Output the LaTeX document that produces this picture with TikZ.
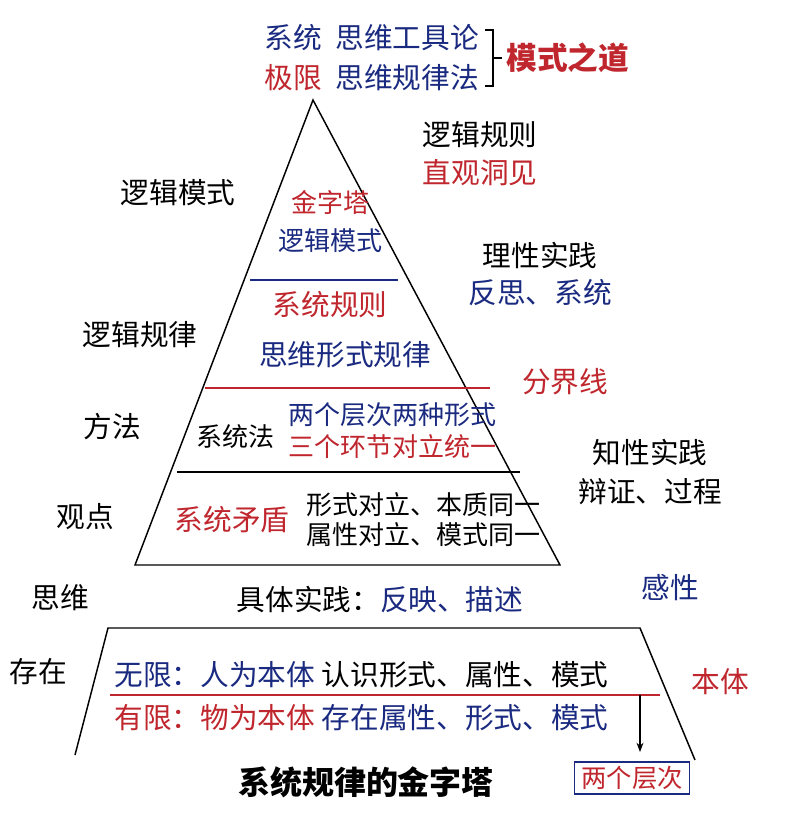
\documentclass[tikz,border=0pt]{standalone}
\usepackage{fontspec}
\setmainfont{Noto Sans CJK SC}
\usetikzlibrary{arrows.meta}
\definecolor{bl}{HTML}{1A2A80}
\definecolor{rd}{HTML}{C0262D}
\begin{document}
\begin{tikzpicture}[x=0.75pt,y=-0.75pt,
  t/.style={font=\fontsize{21.5}{24}\selectfont,inner sep=1pt},
  tb/.style={t,text=bl},tr/.style={t,text=rd},
  sm/.style={font=\fontsize{19.5}{22}\selectfont},
  ln/.style={line width=1.1pt}]
\useasboundingbox (0,0) rectangle (800,840);
\fill[white] (0,0) rectangle (800,840);
% top
\node[tb] (a1) at (293,38) {系统};
\node[tb] (a2) at (407,38) {思维工具论};
\node[tr] (b1) at (293,78) {极限};
\node[tb] (b2) at (407,78) {思维规律法};
\draw[ln] (485,30) -- (493,30) -- (493,86) -- (485,86);
\draw[ln] (493,58) -- (502,58);
\node[tr,font=\fontsize{23}{25}\selectfont\bfseries,anchor=west] (m) at (505,58) {模式之道};
% pyramid
\coordinate (ap) at (313,100); \coordinate (bl) at (135,565); \coordinate (br) at (560,565);
\draw[ln] (ap) -- (bl) -- (br) -- cycle;
\draw[ln,draw=bl] (250,280) -- (398,280);
\draw[ln,draw=rd] (205,388) -- (490,388);
\draw[ln] (177,472) -- (520,472);
\node[tr,sm] (p1) at (330,202) {金字塔};
\node[tb,sm] (p2) at (330,241) {逻辑模式};
\node[tr] (p3) at (330,305) {系统规则};
\node[tb] (p4) at (345,355) {思维形式规律};
\node[t,sm] (p5) at (235,437) {系统法};
\node[tb,sm] (p6) at (392,415) {两个层次两种形式};
\node[tr,sm] (p7) at (392,447) {三个环节对立统一};
\node[tr] (p8) at (232,520) {系统矛盾};
\node[t,sm] (p9) at (423,505) {形式对立、本质同一};
\node[t,sm] (p10) at (423,535) {属性对立、模式同一};
% right labels
\node[t] (r1) at (480,135) {逻辑规则};
\node[tr] (r2) at (480,173) {直观洞见};
\node[t] (r3) at (540,255) {理性实践};
\node[tb] (r4) at (540,293) {反思、系统};
\node[tr] (r5) at (565,382) {分界线};
\node[t] (r6) at (650,452) {知性实践};
\node[t] (r7) at (650,492) {辩证、过程};
\node[tb] (r8) at (670,588) {感性};
% left labels
\node[t] (l1) at (178,193) {逻辑模式};
\node[t] (l2) at (140,335) {逻辑规律};
\node[t] (l3) at (112,427) {方法};
\node[t] (l4) at (85,517) {观点};
\node[t] (l5) at (60,598) {思维};
\node[t] (l6) at (38,672) {存在};
\node[t] (c1) at (380,600) {具体实践：\textcolor{bl}{反映、描述}};
% trapezoid
\draw[ln] (75,755) -- (108,628) -- (640,628) -- (695,760);
\draw[ln,draw=rd] (110,695) -- (660,695);
\node[t,anchor=west] (u1) at (113,675) {\textcolor{bl}{无限：人为本体}\ 认识形式、属性、模式};
\node[t,anchor=west] (u2) at (113,718) {\textcolor{rd}{有限：物为本体}\ \textcolor{bl}{存在属性、形式、模式}};
\node[tr] (bt) at (720,682) {本体};
\node[tr,font=\fontsize{19}{21}\selectfont,draw=bl,line width=0.9pt,minimum width=115pt*0.75,minimum height=32pt*0.75] (box) at (632,778) {两个层次};
\coordinate (ar) at (640,695);
\draw[-{Stealth[length=7pt]},line width=0.8pt] (ar) -- (640,752);
\node[t,font=\fontsize{24}{26}\selectfont\bfseries] (title) at (366,782) {系统规律的金字塔};
\end{tikzpicture}
\end{document}
